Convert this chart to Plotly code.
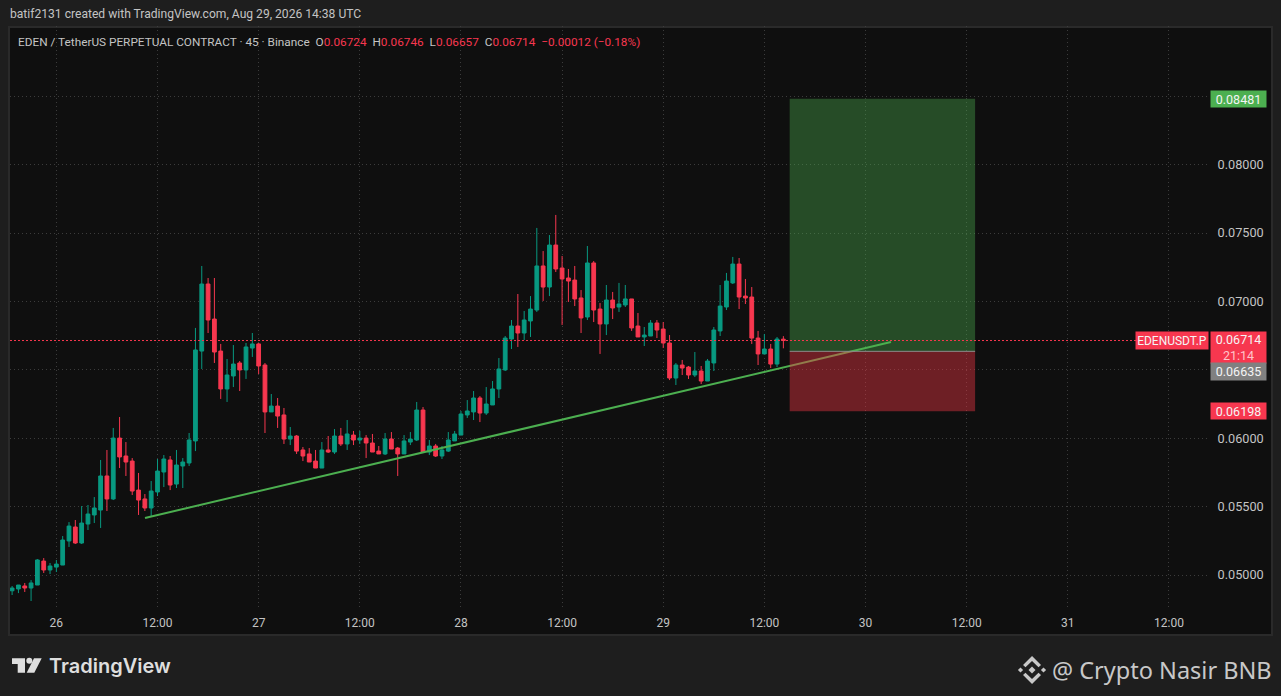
#!/usr/bin/env python3
"""EDEN/USDT 45 minute candles with a long position box, TradingView snapshot look."""

import pandas as pd
import plotly.graph_objects as go

# Candles (25 Aug 18:45 onwards, one every 45 minutes)
first_candle = "2026-08-25 18:45"
opens = [
    0.04885, 0.04898, 0.04920, 0.04905, 0.04927, 0.05102, 0.05037, 0.05058, 0.05073, 0.05249,
    0.05351, 0.05234, 0.05373, 0.05439, 0.05475, 0.05724, 0.05556, 0.06001, 0.05870, 0.05833,
    0.05621, 0.05556, 0.05490, 0.05607, 0.05753, 0.05841, 0.05665, 0.05797, 0.05819, 0.05980,
    0.06637, 0.07127, 0.06871, 0.06637, 0.06360, 0.06455, 0.06550, 0.06499, 0.06659, 0.06689,
    0.06535, 0.06192, 0.06235, 0.06170, 0.05994, 0.06016, 0.05914, 0.05885, 0.05833, 0.05782,
    0.05914, 0.05899, 0.06016, 0.05958, 0.06023, 0.05987, 0.06001, 0.05965, 0.05906, 0.05885,
    0.05994, 0.05928, 0.05885, 0.05972, 0.05987, 0.06206, 0.05899, 0.05943, 0.05870, 0.05906,
    0.05980, 0.06023, 0.06170, 0.06192, 0.06294, 0.06184, 0.06243, 0.06360, 0.06499, 0.06725,
    0.06820, 0.06769, 0.06857, 0.06937, 0.07259, 0.07105, 0.07412, 0.07244, 0.07171, 0.07156,
    0.07025, 0.06886, 0.07281, 0.06944, 0.06835, 0.07010, 0.06959, 0.06974, 0.07018, 0.06820,
    0.06740, 0.06747, 0.06842, 0.06798, 0.06696, 0.06440, 0.06535, 0.06520, 0.06462, 0.06491,
    0.06418, 0.06550, 0.06784, 0.06959, 0.07135, 0.07273, 0.07039, 0.07032, 0.06732, 0.06616,
    0.06652, 0.06542, 0.06724,
]
highs = [
    0.04920, 0.04927, 0.04942, 0.04963, 0.05117, 0.05124, 0.05088, 0.05110, 0.05285, 0.05387,
    0.05402, 0.05504, 0.05512, 0.05570, 0.05841, 0.05914, 0.06075, 0.06155, 0.05972, 0.05855,
    0.05746, 0.05592, 0.05687, 0.05848, 0.05877, 0.05870, 0.05914, 0.05855, 0.06038, 0.06806,
    0.07259, 0.07171, 0.07171, 0.06689, 0.06579, 0.06681, 0.06564, 0.06696, 0.06769, 0.06696,
    0.06550, 0.06323, 0.06294, 0.06221, 0.06082, 0.06023, 0.05936, 0.05928, 0.05914, 0.05972,
    0.06016, 0.06067, 0.06075, 0.06133, 0.06053, 0.06053, 0.06023, 0.06031, 0.05943, 0.06038,
    0.06045, 0.05936, 0.06023, 0.06045, 0.06265, 0.06228, 0.05987, 0.05958, 0.05943, 0.06045,
    0.06053, 0.06199, 0.06279, 0.06345, 0.06308, 0.06374, 0.06418, 0.06586, 0.06747, 0.06864,
    0.07054, 0.06930, 0.07039, 0.07537, 0.07368, 0.07485, 0.07632, 0.07332, 0.07237, 0.07259,
    0.07083, 0.07405, 0.07295, 0.06988, 0.07120, 0.07069, 0.07135, 0.07120, 0.07018, 0.06915,
    0.06813, 0.06864, 0.06864, 0.06849, 0.06754, 0.06550, 0.06572, 0.06528, 0.06630, 0.06528,
    0.06579, 0.06813, 0.07120, 0.07208, 0.07325, 0.07317, 0.07164, 0.07105, 0.06784, 0.06762,
    0.06689, 0.06740, 0.06746,
]
lows = [
    0.04854, 0.04868, 0.04876, 0.04810, 0.04927, 0.05015, 0.05007, 0.05022, 0.05073, 0.05205,
    0.05227, 0.05227, 0.05329, 0.05380, 0.05344, 0.05468, 0.05548, 0.05782, 0.05724, 0.05585,
    0.05439, 0.05468, 0.05424, 0.05577, 0.05643, 0.05621, 0.05636, 0.05636, 0.05797, 0.05906,
    0.06506, 0.06769, 0.06550, 0.06287, 0.06265, 0.06374, 0.06345, 0.06433, 0.06594, 0.06469,
    0.06038, 0.06192, 0.06075, 0.05958, 0.05950, 0.05885, 0.05833, 0.05826, 0.05782, 0.05782,
    0.05892, 0.05885, 0.05943, 0.05914, 0.05950, 0.05958, 0.05855, 0.05899, 0.05885, 0.05877,
    0.05921, 0.05724, 0.05885, 0.05950, 0.05980, 0.05899, 0.05877, 0.05863, 0.05848, 0.05899,
    0.05980, 0.06023, 0.06148, 0.06133, 0.06118, 0.06170, 0.06243, 0.06294, 0.06491, 0.06652,
    0.06667, 0.06718, 0.06740, 0.06923, 0.07003, 0.07039, 0.07215, 0.06828, 0.06996, 0.06966,
    0.06769, 0.06864, 0.06849, 0.06616, 0.06754, 0.06871, 0.06923, 0.06959, 0.06784, 0.06740,
    0.06674, 0.06747, 0.06732, 0.06659, 0.06425, 0.06389, 0.06462, 0.06433, 0.06447, 0.06396,
    0.06418, 0.06491, 0.06747, 0.06937, 0.07127, 0.06944, 0.06981, 0.06689, 0.06535, 0.06616,
    0.06513, 0.06520, 0.06657,
]
closes = [
    0.04905, 0.04927, 0.04905, 0.04942, 0.05110, 0.05037, 0.05066, 0.05080, 0.05256, 0.05358,
    0.05234, 0.05380, 0.05446, 0.05490, 0.05724, 0.05556, 0.06001, 0.05863, 0.05826, 0.05614,
    0.05548, 0.05490, 0.05614, 0.05760, 0.05848, 0.05658, 0.05804, 0.05826, 0.05987, 0.06645,
    0.07127, 0.06864, 0.06630, 0.06360, 0.06462, 0.06542, 0.06499, 0.06667, 0.06689, 0.06528,
    0.06192, 0.06235, 0.06162, 0.05994, 0.06016, 0.05906, 0.05870, 0.05826, 0.05782, 0.05914,
    0.05899, 0.06016, 0.05958, 0.06031, 0.05987, 0.06001, 0.05965, 0.05899, 0.05885, 0.05994,
    0.05921, 0.05885, 0.05980, 0.05994, 0.06206, 0.05899, 0.05943, 0.05870, 0.05914, 0.05987,
    0.06031, 0.06177, 0.06199, 0.06294, 0.06184, 0.06250, 0.06360, 0.06506, 0.06732, 0.06820,
    0.06769, 0.06864, 0.06944, 0.07259, 0.07105, 0.07412, 0.07237, 0.07164, 0.07149, 0.07018,
    0.06879, 0.07281, 0.06937, 0.06835, 0.07010, 0.06952, 0.06981, 0.07018, 0.06806, 0.06740,
    0.06754, 0.06842, 0.06791, 0.06696, 0.06440, 0.06535, 0.06513, 0.06462, 0.06491, 0.06418,
    0.06564, 0.06791, 0.06966, 0.07149, 0.07273, 0.07032, 0.07025, 0.06732, 0.06616, 0.06652,
    0.06542, 0.06725, 0.06714,
]

# Drawings
trend_times = ["2026-08-26 10:31", "2026-08-30 03:01"]
trend_prices = [0.05417, 0.06703]
position_start = "2026-08-29 15:00"
position_end = "2026-08-30 13:00"
target_price = 0.08481
entry_price = 0.06635
stop_price = 0.06198
last_price = 0.06714

# Axis ticks
price_ticks = [0.05, 0.055, 0.06, 0.065, 0.07, 0.075, 0.08, 0.085]
price_labels = ["0.05000", "0.05500", "0.06000", "", "0.07000", "0.07500", "0.08000", ""]
time_ticks = [
    "2026-08-26 00:00", "2026-08-26 12:00", "2026-08-27 00:00", "2026-08-27 12:00",
    "2026-08-28 00:00", "2026-08-28 12:00", "2026-08-29 00:00", "2026-08-29 12:00",
    "2026-08-30 00:00", "2026-08-30 12:00", "2026-08-31 00:00", "2026-08-31 12:00",
]
time_labels = ["26", "12:00", "27", "12:00", "28", "12:00", "29", "12:00", "30", "12:00", "31", "12:00"]

# Colours
PAPER = "#1e1e1e"
PANEL = "#0f0f0f"
BORDER = "#2a2a2a"
GRID = "#3c3c3c"
UP = "#089981"
DOWN = "#f7374f"
LINE_GREEN = "#4caf50"
TEXT = "#c4c4c4"
FONT = "Roboto, sans-serif"

# Plot box in page pixels, used to place the page furniture
LEFT, RIGHT, TOP, BOTTOM = 10, 1210, 26, 608


def px(x):
    return (x - LEFT) / (RIGHT - LEFT)


def py(y):
    return (BOTTOM - y) / (BOTTOM - TOP)


def path(points):
    return "M " + " L ".join(f"{px(x):.5f},{py(y):.5f}" for x, y in points) + " Z"


def page_text(x, y, text, size, color=TEXT, anchor="left", font=FONT, weight=None):
    return dict(
        xref="paper", yref="paper", x=px(x), y=py(y), text=text, showarrow=False,
        xanchor=anchor, yanchor="middle", align=anchor,
        font=dict(family=font, size=size, color=color, weight=weight),
    )


def price_tag(price, text, color, height=16, shift=0):
    return dict(
        xref="paper", yref="y", x=1, y=price, yshift=shift, text=text, showarrow=False,
        xanchor="left", yanchor="middle", bgcolor=color, width=55, height=height,
        borderpad=0, align="center", font=dict(family=FONT, size=12.5, color="#f4f4f4"),
    )


times = pd.date_range(first_candle, periods=len(opens), freq="45min")

fig = go.Figure()
fig.add_trace(go.Scatter(
    x=trend_times, y=trend_prices, mode="lines",
    line=dict(color=LINE_GREEN, width=2), hoverinfo="skip",
))
fig.add_trace(go.Candlestick(
    x=times, open=opens, high=highs, low=lows, close=closes,
    increasing=dict(line=dict(color=UP, width=1), fillcolor=UP),
    decreasing=dict(line=dict(color=DOWN, width=1), fillcolor=DOWN),
    whiskerwidth=0,
))

shapes = [
    # Chart frame
    dict(type="rect", xref="paper", yref="paper", x0=px(9), x1=px(1272), y0=py(27), y1=py(635),
         fillcolor=PANEL, line=dict(color=BORDER, width=2), layer="below"),
    # Long position box
    dict(type="rect", xref="x", yref="y", x0=position_start, x1=position_end,
         y0=entry_price, y1=target_price, fillcolor="rgba(76,175,80,0.38)", line_width=0),
    dict(type="rect", xref="x", yref="y", x0=position_start, x1=position_end,
         y0=stop_price, y1=entry_price, fillcolor="rgba(242,54,69,0.42)", line_width=0),
    dict(type="line", xref="x", yref="y", x0=position_start, x1=position_end,
         y0=entry_price, y1=entry_price, line=dict(color="#8c8c8c", width=1)),
    # Last price line
    dict(type="line", xref="paper", yref="y", x0=0, x1=1, y0=last_price, y1=last_price,
         line=dict(color=DOWN, width=1, dash="2px,2px")),
    # TradingView mark
    dict(type="path", xref="paper", yref="paper", line_width=0, fillcolor="#dedede",
         path=path([(12, 658.3), (25, 658.3), (25, 672.7), (17.7, 672.7), (17.7, 664), (12, 664)])),
    dict(type="circle", xref="paper", yref="paper", line_width=0, fillcolor="#dedede",
         x0=px(26.3), x1=px(32.3), y0=py(663.7), y1=py(657.7)),
    dict(type="path", xref="paper", yref="paper", line_width=0, fillcolor="#dedede",
         path=path([(34, 658.3), (41.7, 658.3), (34.3, 672.7), (26.7, 672.7)])),
]

# Binance mark: centre diamond, two side diamonds, two chevrons
cx, cy = 1032, 670
for dx, r in [(0, 3.5), (-11.5, 2.6), (11.5, 2.6)]:
    shapes.append(dict(type="path", xref="paper", yref="paper", line_width=0, fillcolor="#c8c8c8",
                       path=path([(cx + dx, cy - r), (cx + dx + r, cy), (cx + dx, cy + r), (cx + dx - r, cy)])))
for s in (-1, 1):
    shapes.append(dict(type="path", xref="paper", yref="paper", line_width=0, fillcolor="#c8c8c8",
                       path=path([(cx, cy + s * 14), (cx + 9, cy + s * 5), (cx + 6.5, cy + s * 2.7), (cx, cy + s * 9),
                                  (cx - 6.5, cy + s * 2.7), (cx - 9, cy + s * 5)])))

legend_text = (
    "EDEN / TetherUS PERPETUAL CONTRACT · 45 · Binance\u00a0\u00a0"
    f"O<span style='color:{DOWN}'>0.06724</span>  H<span style='color:{DOWN}'>0.06746</span>  "
    f"L<span style='color:{DOWN}'>0.06657</span>  C<span style='color:{DOWN}'>0.06714</span>  "
    f"<span style='color:{DOWN}'>−0.00012 (−0.18%)</span>"
)

annotations = [
    page_text(8, 14, "batif2131 created with TradingView.com, Aug 29, 2026 14:38 UTC", 12.1),
    page_text(16, 42, legend_text, 11.8),
    page_text(47, 666, "TradingView", 20, color="#dedede", font="Inter, sans-serif", weight=600),
    page_text(1050, 670, "@ Crypto Nasir BNB", 23.5, color="#c8c8c8", font="Noto Sans, sans-serif"),
    dict(xref="paper", yref="y", x=0.9995, y=last_price, text="EDENUSDT.P", showarrow=False,
         xanchor="right", yanchor="middle", bgcolor=DOWN, width=72, height=17, borderpad=0,
         font=dict(family=FONT, size=12, color="#f4f4f4")),
    price_tag(target_price, "0.08481", LINE_GREEN),
    price_tag(last_price, "0.06714<br><span style='color:#ffc4cb'>21:14</span>", DOWN, height=31, shift=-7),
    price_tag(entry_price, "0.06635", "#808080", height=17, shift=-20),
    price_tag(stop_price, "0.06198", DOWN),
]

fig.update_layout(
    width=1281, height=696,
    margin=dict(l=LEFT, r=1281 - RIGHT, t=TOP, b=696 - BOTTOM, autoexpand=False),
    paper_bgcolor=PAPER, plot_bgcolor=PANEL,
    showlegend=False, boxgap=0.15,
    font=dict(family=FONT, size=12, color=TEXT),
    shapes=shapes, annotations=annotations,
    xaxis=dict(
        type="date", range=["2026-08-25 18:30", "2026-08-31 16:52"],
        tickmode="array", tickvals=time_ticks, ticktext=time_labels, tickangle=0,
        showgrid=True, gridcolor=GRID, griddash="1px,3px", gridwidth=1,
        ticks="outside", ticklen=4, tickcolor="rgba(0,0,0,0)", showline=False, zeroline=False,
        rangeslider=dict(visible=False),
    ),
    yaxis=dict(
        side="right", range=[0.04759, 0.09013],
        tickmode="array", tickvals=price_ticks, ticktext=price_labels, tickfont=dict(size=12.7),
        showgrid=True, gridcolor=GRID, griddash="1px,3px", gridwidth=1,
        ticks="outside", ticklen=4, tickcolor="rgba(0,0,0,0)", showline=False, zeroline=False,
    ),
)

# Page margin off so the figure sits flush with the window, no toolbar
fig.write_html(
    "out.html",
    config={"displayModeBar": False},
    post_script="document.body.style.margin='0';document.documentElement.style.overflow='hidden';",
)
